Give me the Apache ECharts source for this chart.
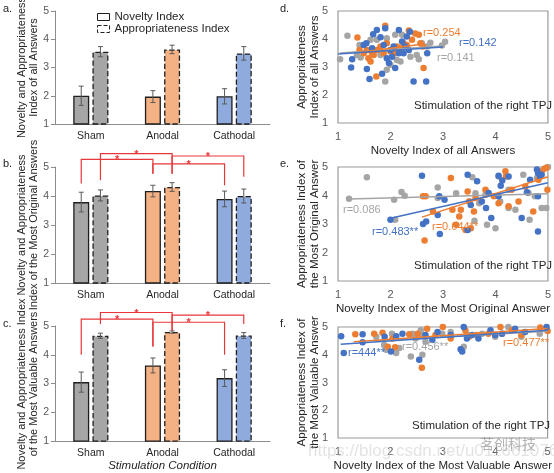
<!DOCTYPE html>
<html>
<head>
<meta charset="utf-8">
<script src="https://cdn.jsdelivr.net/npm/echarts@6/dist/echarts.min.js"></script>
<style>
html, body { margin: 0; padding: 0; background: #fff; }
#chart { width: 554px; height: 473px; }
</style>
</head>
<body>
<div id="chart"></div>
<script>
// ---- bar panels (a, b, c) ----
const conditions = ['Sham', 'Anodal', 'Cathodal'];
const condColors = ['#a6a6a6', '#f4b183', '#8faadc'];

const allNovelty = [2.0, 1.97, 1.98];
const allNoveltyErr = [0.34, 0.21, 0.27];
const allApprop = [3.56, 3.64, 3.5];
const allAppropErr = [0.18, 0.15, 0.24];

const origNovelty = [3.79, 4.17, 3.9];
const origNoveltyErr = [0.34, 0.2, 0.27];
const origApprop = [4.02, 4.31, 4.0];
const origAppropErr = [0.19, 0.15, 0.24];

const valNovelty = [3.05, 3.63, 3.19];
const valNoveltyErr = [0.35, 0.26, 0.29];
const valApprop = [4.66, 4.79, 4.67];
const valAppropErr = [0.09, 0.04, 0.1];

// significance brackets: [cat1, bar1, cat2, bar2, top, leftEnd, rightEnd]  (bar 0 = novelty, 1 = appropriateness)
const origBrackets = [
  [0, 0, 1, 0, 5.26, 4.43, 4.77],
  [0, 1, 1, 1, 5.46, 4.54, 4.77],
  [1, 0, 2, 0, 5.11, 4.77, 4.37],
  [1, 1, 2, 1, 5.38, 4.77, 4.66]
];
const valBrackets = [
  [0, 0, 1, 0, 5.24, 4.0, 4.29],
  [0, 1, 1, 1, 5.47, 5.07, 4.84],
  [1, 0, 2, 0, 5.13, 4.29, 4.0],
  [1, 1, 2, 1, 5.38, 4.84, 5.07]
];

// ---- scatter panels (d, e, f) ----
const allSham = [[1.04,3.28],[1.18,4.12],[1.43,3.34],[1.41,3.79],[1.9,2.48],[1.93,2.9],[2.09,4.15],[2.12,3.25],[2.19,3.2],[2.5,3.43],[2.54,3.28],[2.7,3.73],[2.76,3.87],[2.98,3.77],[3.04,3.9],[1.62,3.97],[1.74,3.97],[2.0,3.08],[2.22,4.15],[1.81,3.43],[2.38,3.37],[2.6,3.85],[1.93,4.03],[1.36,3.43]];
const allAnodal = [[1.37,4.05],[1.41,3.61],[1.55,3.61],[1.58,3.31],[1.62,3.2],[1.68,3.43],[1.73,2.66],[1.74,3.61],[1.81,3.73],[1.9,4.47],[1.93,3.85],[2.0,3.55],[2.09,3.49],[2.19,3.67],[2.25,3.85],[2.35,4.3],[2.41,3.97],[2.47,4.2],[2.54,4.15],[2.57,3.85],[2.62,3.73],[2.63,2.96],[1.49,3.49],[1.65,3.49],[1.87,3.49],[2.12,3.73],[2.31,3.79]];
const allCathodal = [[1.27,3.28],[1.25,2.98],[1.55,2.93],[1.6,2.57],[1.54,3.85],[1.65,3.67],[1.67,4.17],[1.74,4.32],[1.81,4.06],[1.84,2.76],[1.9,4.38],[1.87,3.79],[1.93,3.31],[1.97,3.14],[2.03,3.37],[2.06,3.73],[2.09,2.96],[2.16,4.32],[2.22,3.91],[2.25,3.49],[2.31,4.09],[2.37,4.26],[2.28,3.73],[2.44,2.48],[2.68,2.48],[2.7,3.49],[1.49,3.79],[2.0,3.61],[2.16,3.49],[2.35,3.61]];

const origSham = [[1.21,3.89],[1.55,4.64],[2.07,3.85],[2.09,3.15],[2.21,4.12],[2.27,3.99],[2.9,4.28],[2.9,3.91],[3.56,4.64],[3.6,3.11],[3.62,4.08],[3.69,3.73],[3.84,2.97],[4.0,2.85],[4.06,4.67],[4.09,3.79],[4.25,4.2],[4.38,3.5],[4.53,4.73],[4.63,4.09],[4.65,3.15],[4.75,3.97],[4.88,3.56],[4.97,3.56],[5.0,5.0],[4.79,4.61],[4.25,3.56],[3.5,3.79],[3.81,4.03],[3.25,4.08]];
const origAnodal = [[2.65,2.42],[2.62,3.97],[2.67,3.97],[2.81,3.44],[3.15,4.61],[3.18,3.5],[3.31,3.26],[3.34,3.5],[3.43,2.79],[3.47,4.14],[3.5,3.79],[3.53,2.85],[3.59,3.44],[3.62,3.91],[3.81,4.2],[3.97,3.97],[4.19,4.85],[4.2,4.67],[4.25,3.62],[4.31,4.2],[4.44,3.79],[4.72,3.44],[4.82,4.55],[4.88,4.85],[4.93,4.94],[4.97,4.97],[4.99,4.2],[4.57,4.32],[4.06,3.73],[3.25,2.97]];
const origCathodal = [[2.0,3.15],[2.6,4.69],[2.62,3.0],[2.68,3.09],[2.9,3.32],[2.93,3.97],[2.94,2.65],[3.03,3.85],[3.47,4.73],[3.47,2.79],[3.53,3.67],[3.65,4.5],[3.74,3.79],[3.82,3.56],[3.92,3.21],[4.06,4.69],[4.06,3.97],[4.1,4.34],[4.13,4.53],[4.25,4.67],[4.5,3.21],[4.6,4.11],[4.66,4.55],[4.79,4.91],[4.81,4.79],[4.85,4.67],[4.88,4.73],[4.81,2.74],[4.81,3.97],[3.87,4.09]];

const valSham = [[1.73,4.65],[1.88,4.35],[1.92,4.18],[2.03,4.76],[2.11,4.06],[2.17,4.24],[2.39,3.94],[2.48,4.59],[2.58,4.88],[2.61,4.0],[2.61,4.71],[2.67,4.47],[2.99,4.76],[3.15,4.82],[3.4,4.29],[3.46,4.74],[3.75,4.76],[4.0,4.65],[4.25,5.0],[4.5,4.65],[4.85,4.76],[2.42,4.76],[4.13,4.76]];
const valAnodal = [[1.33,4.74],[1.69,4.76],[1.85,4.79],[1.95,4.29],[2.04,4.59],[2.09,4.27],[2.36,4.74],[2.52,4.76],[2.6,3.53],[2.7,4.94],[3.0,5.0],[3.15,4.59],[3.43,4.88],[3.65,4.71],[3.87,4.76],[4.1,5.0],[4.32,4.88],[4.86,4.98],[5.0,4.86],[2.86,4.71],[4.5,4.71],[3.5,4.65]];
const valCathodal = [[1.06,4.67],[1.11,4.06],[1.47,4.74],[1.47,4.45],[1.89,4.65],[2.01,4.12],[2.11,4.67],[2.55,3.82],[2.8,4.53],[2.9,4.82],[3.34,4.2],[3.37,4.12],[3.4,5.0],[3.46,4.59],[3.68,4.59],[3.91,4.88],[4.13,4.76],[4.38,4.94],[4.57,4.82],[4.98,5.0],[2.23,4.76],[2.67,4.71],[3.15,4.71],[3.56,4.71],[4.0,4.71]];

// trend line end points
const allTrend = { sham: [[1.04,3.5],[3.04,3.76]], anodal: [[1.37,3.52],[2.63,3.82]], cathodal: [[1.0,3.46],[3.0,3.71]] };
const origTrend = { sham: [[1.2,3.88],[5.0,4.06]], anodal: [[2.6,3.24],[5.0,4.66]], cathodal: [[2.0,3.2],[5.0,4.45]] };
const valTrend = { sham: [[1.7,4.5],[5.0,4.85]], anodal: [[1.3,4.47],[5.0,4.95]], cathodal: [[1.05,4.38],[5.0,4.88]] };

const scatterColors = { sham: '#a5a5a5', anodal: '#ed7d31', cathodal: '#4472c4' };

const FONT = '"Liberation Sans", Arial, sans-serif';
const BAR_W = 16;
const BAR_GAP = 3.2;
const BAR_OFFSET = (BAR_W + BAR_GAP) / 2;
const RED = '#e8373a';
const AXIS_GRAY = '#8c8c8c';
const LABEL_GRAY = '#595959';
const TEXT_DARK = '#262626';

const barGrids = [
  { left: 55, top: 11, width: 215, height: 113 },
  { left: 55, top: 167, width: 215, height: 116 },
  { left: 55, top: 326, width: 215, height: 116 }
];
const scatterGrids = [
  { left: 338, top: 11, width: 210, height: 112 },
  { left: 338, top: 167, width: 210, height: 114 },
  { left: 338, top: 327, width: 210, height: 113 }
];

function renderErrorBar(params, api) {
  const cat = api.value(0), mean = api.value(1), err = api.value(2), side = api.value(3);
  const hi = api.coord([cat, mean + err]);
  const lo = api.coord([cat, mean - err]);
  const x = hi[0] + side * BAR_OFFSET;
  const cap = 2.5;
  const style = { stroke: '#595959', lineWidth: 1 };
  return {
    type: 'group',
    children: [
      { type: 'line', shape: { x1: x, y1: hi[1], x2: x, y2: lo[1] }, style: style },
      { type: 'line', shape: { x1: x - cap, y1: hi[1], x2: x + cap, y2: hi[1] }, style: style },
      { type: 'line', shape: { x1: x - cap, y1: lo[1], x2: x + cap, y2: lo[1] }, style: style }
    ]
  };
}

function renderBracket(params, api) {
  const off = [-BAR_OFFSET, BAR_OFFSET];
  const p1 = api.coord([api.value(0), api.value(5)]);
  const p2 = api.coord([api.value(2), api.value(6)]);
  const yt = api.coord([api.value(0), api.value(4)])[1];
  const x1 = p1[0] + off[api.value(1)];
  const x2 = p2[0] + off[api.value(3)];
  return {
    type: 'group',
    children: [
      { type: 'polyline', shape: { points: [[x1, p1[1]], [x1, yt], [x2, yt], [x2, p2[1]]] },
        style: { stroke: RED, lineWidth: 1.2, fill: null } },
      { type: 'text', x: (x1 + x2) / 2, y: yt + 1,
        style: { text: '*', fill: RED, font: 'bold 11px ' + FONT, align: 'center', verticalAlign: 'middle' } }
    ]
  };
}

const grid = [];
const xAxis = [];
const yAxis = [];
const series = [];
const graphics = [];

function addBarPanel(idx, novelty, noveltyErr, approp, appropErr, brackets, yName, xName) {
  const g = barGrids[idx];
  grid.push(g);
  xAxis.push({
    type: 'category', gridIndex: idx, data: conditions,
    axisLine: { lineStyle: { color: AXIS_GRAY } },
    axisTick: { length: 4, lineStyle: { color: AXIS_GRAY } },
    axisLabel: { color: TEXT_DARK, fontSize: 10.5, fontFamily: FONT, margin: 7 },
    name: xName || '', nameLocation: 'middle', nameGap: 18,
    nameTextStyle: { color: TEXT_DARK, fontSize: 11.5, fontStyle: 'italic', fontFamily: FONT }
  });
  yAxis.push({
    type: 'value', gridIndex: idx, min: 1, max: 5, interval: 1,
    axisLine: { show: true, lineStyle: { color: AXIS_GRAY } },
    axisTick: { show: true, length: 4, lineStyle: { color: AXIS_GRAY } },
    splitLine: { show: false },
    axisLabel: { color: LABEL_GRAY, fontSize: 10.5, fontFamily: FONT, margin: 6 }
  });
  // rotated two-line y title, set beside the tick labels
  graphics.push({
    type: 'text', x: 28, y: g.top + g.height / 2, rotation: Math.PI / 2, z: 90,
    style: { text: yName, fill: TEXT_DARK, font: '11px ' + FONT, lineHeight: 11.5,
             align: 'center', verticalAlign: 'middle' }
  });
  series.push({
    type: 'bar', name: 'Novelty Index', xAxisIndex: idx, yAxisIndex: idx,
    barWidth: BAR_W, barGap: (BAR_GAP / BAR_W * 100) + '%',
    itemStyle: { borderColor: '#1f1f1f', borderWidth: 1.3 },
    data: novelty.map((v, k) => ({ value: v, itemStyle: { color: condColors[k] } }))
  });
  series.push({
    type: 'bar', name: 'Appropriateness Index', xAxisIndex: idx, yAxisIndex: idx,
    barWidth: BAR_W,
    itemStyle: { borderColor: '#1f1f1f', borderWidth: 1.3, borderType: 'dashed' },
    data: approp.map((v, k) => ({ value: v, itemStyle: { color: condColors[k] } }))
  });
  series.push({
    type: 'custom', xAxisIndex: idx, yAxisIndex: idx, renderItem: renderErrorBar, clip: false,
    encode: { x: 0, y: 1 }, silent: true, z: 5,
    data: novelty.map((v, k) => [k, v, noveltyErr[k], -1]).concat(approp.map((v, k) => [k, v, appropErr[k], 1]))
  });
  if (brackets) {
    series.push({
      type: 'custom', xAxisIndex: idx, yAxisIndex: idx, renderItem: renderBracket, clip: false,
      encode: { x: 0, y: 4 }, silent: true, z: 6, data: brackets
    });
  }
}

function addScatterPanel(idx, sham, anodal, cathodal, trend, xName, yName) {
  const g = idx + 3;
  grid.push(Object.assign({ show: true, borderColor: '#9a9a9a', borderWidth: 1.2 }, scatterGrids[idx]));
  xAxis.push({
    type: 'value', gridIndex: g, min: 1, max: 5, interval: 1,
    axisLine: { show: false }, axisTick: { show: false }, splitLine: { show: false },
    axisLabel: { color: LABEL_GRAY, fontSize: 11, fontFamily: FONT, margin: 8 },
    name: xName, nameLocation: 'middle', nameGap: 22,
    nameTextStyle: { color: TEXT_DARK, fontSize: 11.5, fontFamily: FONT }
  });
  yAxis.push({
    type: 'value', gridIndex: g, min: 1, max: 5, interval: 1,
    axisLine: { show: false }, axisTick: { show: false }, splitLine: { show: false },
    axisLabel: { color: LABEL_GRAY, fontSize: 11, fontFamily: FONT, margin: 10 },
    name: yName, nameLocation: 'middle', nameGap: 17, nameMoveOverlap: false,
    nameTextStyle: { color: TEXT_DARK, fontSize: 11.5, fontFamily: FONT, lineHeight: 13 }
  });
  const groups = [['sham', sham], ['anodal', anodal], ['cathodal', cathodal]];
  groups.forEach(([key, pts]) => {
    series.push({
      type: 'scatter', xAxisIndex: g, yAxisIndex: g, symbolSize: 6.5,
      itemStyle: { color: scatterColors[key], opacity: 1 }, data: pts, z: 2
    });
  });
  groups.forEach(([key]) => {
    series.push({
      type: 'line', xAxisIndex: g, yAxisIndex: g, symbol: 'none', silent: true, z: 3,
      lineStyle: { color: scatterColors[key], width: 1.5 }, data: trend[key]
    });
  });
}

addBarPanel(0, allNovelty, allNoveltyErr, allApprop, allAppropErr, null,
  'Novelty and Appropriateness\nIndex of all Answers');
addBarPanel(1, origNovelty, origNoveltyErr, origApprop, origAppropErr, origBrackets,
  'Novelty and Appropriateness\nIndex of the Most Original Answers');
addBarPanel(2, valNovelty, valNoveltyErr, valApprop, valAppropErr, valBrackets,
  'Novelty and Appropriateness Index\nof the Most Valuable Answers', 'Stimulation Condition');

addScatterPanel(0, allSham, allAnodal, allCathodal, allTrend,
  'Novelty Index of all Answers', 'Appropriateness\nIndex of all Answers');
addScatterPanel(1, origSham, origAnodal, origCathodal, origTrend,
  'Novelty Index of the Most Original Answer', 'Appropriateness Index of\nthe Most Original Answer');
addScatterPanel(2, valSham, valAnodal, valCathodal, valTrend,
  'Novelty Index of the Most Valuable Answer', 'Appropriateness Index of\nthe Most Valuable Answer');

function note(text, x, y, color, size) {
  return {
    type: 'text', left: x, top: y, z: 100,
    style: { text: text, fill: color, font: (size || 11) + 'px ' + FONT }
  };
}

graphics.push(
  note('a.', 3, 3, TEXT_DARK, 11), note('b.', 3, 158, TEXT_DARK, 11), note('c.', 3, 318, TEXT_DARK, 11),
  note('d.', 280, 3, TEXT_DARK, 11), note('e.', 280, 158, TEXT_DARK, 11), note('f.', 280, 318, TEXT_DARK, 11),
  note('Stimulation of the right TPJ', 414, 100, TEXT_DARK, 11.5),
  note('Stimulation of the right TPJ', 414, 260, TEXT_DARK, 11.5),
  note('Stimulation of the right TPJ', 412, 420, TEXT_DARK, 11.5),
  note('r=0.254', 423, 27, scatterColors.anodal, 11),
  note('r=0.142', 459, 37, scatterColors.cathodal, 11),
  note('r=0.141', 437, 52, scatterColors.sham, 11),
  note('r=0.086', 343, 204, scatterColors.sham, 11),
  note('r=0.483**', 372, 226, scatterColors.cathodal, 11),
  note('r=0.644**', 432, 221, scatterColors.anodal, 11),
  note('r=444**', 348, 347, scatterColors.cathodal, 11),
  note('r=0.456**', 402, 341, scatterColors.sham, 11),
  note('r=0.477**', 503, 337, scatterColors.anodal, 11),
  // faint watermark
  { type: 'text', left: 308, top: 443, z: 120, silent: true,
    style: { text: 'https://blog.csdn.net/u011661076', fill: 'rgba(200,200,200,0.5)', font: '17px ' + FONT } },
  { type: 'text', left: 480, top: 437, z: 121, silent: true,
    style: { text: '茗创科技', fill: 'rgba(150,150,150,0.7)', font: '14px "Noto Sans CJK SC"' } }
);

const chart = echarts.init(document.getElementById('chart'));
chart.setOption({
  animation: false,
  backgroundColor: '#fff',
  textStyle: { fontFamily: FONT },
  legend: {
    orient: 'vertical', left: 92, top: 6, itemWidth: 12, itemHeight: 7, itemGap: 0,
    textStyle: { color: TEXT_DARK, fontSize: 11.5, fontFamily: FONT, lineHeight: 12 },
    data: [
      { name: 'Novelty Index', icon: 'rect',
        itemStyle: { color: '#fff', borderColor: '#1f1f1f', borderWidth: 1 } },
      { name: 'Appropriateness Index', icon: 'rect',
        itemStyle: { color: '#fff', borderColor: '#1f1f1f', borderWidth: 1, borderType: 'dashed' } }
    ]
  },
  grid: grid,
  xAxis: xAxis,
  yAxis: yAxis,
  series: series,
  graphic: graphics
});
</script>
</body>
</html>
